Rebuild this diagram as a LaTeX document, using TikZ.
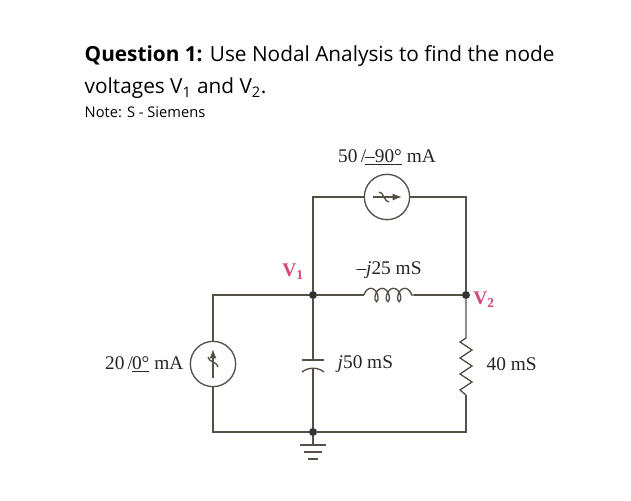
\documentclass[tikz,border=0pt]{standalone}
\usepackage{fontspec}
\setmainfont{Open Sans}
\newfontfamily\ser{Liberation Serif}
\usetikzlibrary{arrows.meta,decorations.pathmorphing}
\definecolor{wire}{RGB}{85,80,70}
\definecolor{pinkv}{RGB}{215,70,120}
\newcommand{\ang}[1]{\,/\kern-0.05em\underline{#1}}
\begin{document}
\begin{tikzpicture}[x=0.75pt,y=-0.75pt,
  w/.style={draw=wire,line width=1pt},
  lab/.style={font=\ser\fontsize{14.5}{16}\selectfont,text=black!85},
  vl/.style={font=\ser\bfseries\fontsize{14.5}{16}\selectfont,text=pinkv},
  dot/.style={circle,fill=black!80,inner sep=0pt,minimum size=6pt}]
\useasboundingbox (0,0) rectangle (631,500);
\fill[white] (0,0) rectangle (631,500);
% text
\node[anchor=west,font=\fontsize{15.6}{18}\selectfont] (q1) at (80,56) {\textbf{Question 1:} Use Nodal Analysis to find the node};
\node[anchor=west,font=\fontsize{15.6}{18}\selectfont] (q2) at (80,88) {voltages V\textsubscript{1} and V\textsubscript{2}.};
\node[anchor=west,font=\fontsize{11}{13}\selectfont] (q3) at (80,112) {Note: S - Siemens};
% nodes
\coordinate (tl) at (313,197); \coordinate (tr) at (466,197);
\node[dot] (n1) at (313,295) {}; \node[dot] (n2) at (466,295) {};
\coordinate (ml) at (213,295);
\node[dot] (g) at (313,432) {};
\coordinate (bl) at (213,432); \coordinate (br) at (466,432);
\node[circle,w,minimum size=34pt,inner sep=0pt] (s2) at (387,197) {};
\node[circle,w,minimum size=34pt,inner sep=0pt] (s1) at (213,364) {};
% wires
\draw[w] (s2.west) -- (tl) -- (n1) -- (ml) -- (s1.north);
\draw[w] (s2.east) -- (tr) -- (n2);
\draw[w] (s1.south) -- (bl) -- (g) -- (br) -- (466,395);
% inductor
\draw[w] (n1) -- (364,295);
\draw[w,decoration={coil,aspect=0.6,segment length=8.5pt,amplitude=5pt},decorate] (364,295) -- (414,295);
\draw[w] (414,295) -- (n2);
% resistor
\draw[w] (n2) -- (466,338) -- (460,342) -- (472,350) -- (460,358) -- (472,366) -- (460,374) -- (472,382) -- (460,390) -- (466,395);
% capacitor
\draw[w] (n1) -- (313,360) (g) -- (313,368);
\draw[w] (302,360) -- (324,360);
\draw[w] (302,372) .. controls (308,367) and (318,367) .. (324,372);
% ground
\draw[w] (g) -- (313,445);
\draw[w] (300,445) -- (326,445) (304,452) -- (322,452) (308,459) -- (318,459);
% source arrows
\draw[w,-{Latex[length=7pt]}] (373,197) -- (402,197);
\draw[w] (379,192) .. controls (384,192) and (384,202) .. (389,202);
\draw[w,-{Latex[length=7pt]}] (213,378) -- (213,349);
\draw[w] (208,357) .. controls (208,362) and (218,362) .. (218,367);
% labels
\node[lab] (l1) at (387,157) {50\ang{–90°} mA};
\node[lab,anchor=east] (l2) at (188,364) {20\ang{0°} mA};
\node[lab] (l3) at (389,270) {–\textit{j}25 mS};
\node[lab,anchor=west] (l4) at (333,364) {\textit{j}50 mS};
\node[lab,anchor=west] (l5) at (482,364) {40 mS};
\node[vl] (v1) at (293,272) {V\textsubscript{1}};
\node[vl] (v2) at (484,300) {V\textsubscript{2}};
\end{tikzpicture}
\end{document}
